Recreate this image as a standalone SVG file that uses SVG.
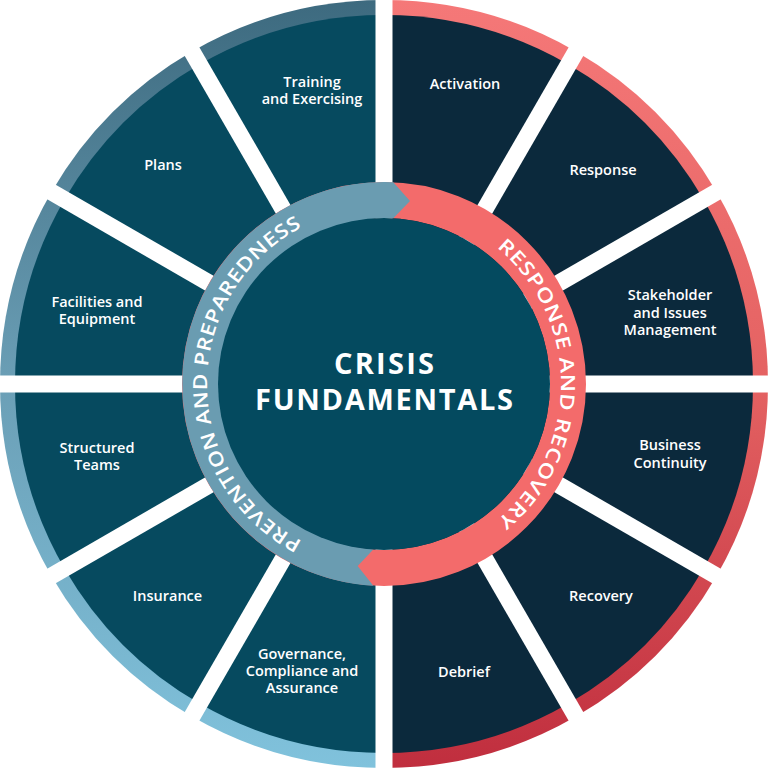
<svg xmlns="http://www.w3.org/2000/svg" width="768" height="768" viewBox="0 0 768 768">
<style>
.segL{fill:#064a5f}
.segR{fill:#0b293c}
.rimL{fill:url(#gradL)}
.rimR{fill:url(#gradR)}
.lbl{font-family:"Open Sans","Liberation Sans",sans-serif;font-weight:600;font-size:14.5px;fill:#ffffff;text-anchor:middle}
.ring{font-family:"Open Sans","Liberation Sans",sans-serif;font-weight:600;font-size:19.5px;fill:#ffffff;letter-spacing:0.5px}
.title{font-family:"Open Sans","Liberation Sans",sans-serif;font-weight:700;font-size:29px;fill:#ffffff;text-anchor:middle}
.gap{fill:#ffffff}
</style>
<defs>
<linearGradient id="gradL" gradientUnits="userSpaceOnUse" x1="0" y1="0" x2="0" y2="768">
<stop offset="0" stop-color="#3d6a7f"/>
<stop offset="0.5" stop-color="#6b9fb6"/>
<stop offset="1" stop-color="#80c2dc"/>
</linearGradient>
<linearGradient id="gradR" gradientUnits="userSpaceOnUse" x1="0" y1="0" x2="0" y2="768">
<stop offset="0" stop-color="#f57878"/>
<stop offset="0.5" stop-color="#e46262"/>
<stop offset="1" stop-color="#c02e3e"/>
</linearGradient>
<path id="arcL" d="M384 561 A177 177 0 0 1 384 207"/>
<path id="arcR" d="M384 207 A177 177 0 0 1 384 561"/>
</defs>
<rect width="768" height="768" fill="#ffffff"/>

<g id="activation">
<path class="rimR" d="M384 384 L384 0 A384 384 0 0 1 576 51.45 Z"/>
<path class="segR" d="M384 384 L384 15 A369 369 0 0 1 568.5 64.44 Z"/>
<text class="lbl" x="465" y="89">Activation</text>
</g>
<g id="response">
<path class="rimR" d="M384 384 L576 51.45 A384 384 0 0 1 716.55 192 Z"/>
<path class="segR" d="M384 384 L568.5 64.44 A369 369 0 0 1 703.56 199.5 Z"/>
<text class="lbl" x="603" y="175">Response</text>
</g>
<g id="stakeholder">
<path class="rimR" d="M384 384 L716.55 192 A384 384 0 0 1 768 384 Z"/>
<path class="segR" d="M384 384 L703.56 199.5 A369 369 0 0 1 753 384 Z"/>
<text class="lbl" x="670" y="300">Stakeholder</text>
<text class="lbl" x="670" y="317.5">and Issues</text>
<text class="lbl" x="670" y="335">Management</text>
</g>
<g id="business-continuity">
<path class="rimR" d="M384 384 L768 384 A384 384 0 0 1 716.55 576 Z"/>
<path class="segR" d="M384 384 L753 384 A369 369 0 0 1 703.56 568.5 Z"/>
<text class="lbl" x="670" y="450">Business</text>
<text class="lbl" x="670" y="467.5">Continuity</text>
</g>
<g id="recovery">
<path class="rimR" d="M384 384 L716.55 576 A384 384 0 0 1 576 716.55 Z"/>
<path class="segR" d="M384 384 L703.56 568.5 A369 369 0 0 1 568.5 703.56 Z"/>
<text class="lbl" x="601" y="601">Recovery</text>
</g>
<g id="debrief">
<path class="rimR" d="M384 384 L576 716.55 A384 384 0 0 1 384 768 Z"/>
<path class="segR" d="M384 384 L568.5 703.56 A369 369 0 0 1 384 753 Z"/>
<text class="lbl" x="464" y="677">Debrief</text>
</g>
<g id="governance">
<path class="rimL" d="M384 384 L384 768 A384 384 0 0 1 192 716.55 Z"/>
<path class="segL" d="M384 384 L384 753 A369 369 0 0 1 199.5 703.56 Z"/>
<text class="lbl" x="302" y="659">Governance,</text>
<text class="lbl" x="302" y="676">Compliance and</text>
<text class="lbl" x="302" y="693">Assurance</text>
</g>
<g id="insurance">
<path class="rimL" d="M384 384 L192 716.55 A384 384 0 0 1 51.45 576 Z"/>
<path class="segL" d="M384 384 L199.5 703.56 A369 369 0 0 1 64.44 568.5 Z"/>
<text class="lbl" x="167.5" y="601">Insurance</text>
</g>
<g id="structured-teams">
<path class="rimL" d="M384 384 L51.45 576 A384 384 0 0 1 0 384 Z"/>
<path class="segL" d="M384 384 L64.44 568.5 A369 369 0 0 1 15 384 Z"/>
<text class="lbl" x="97" y="453">Structured</text>
<text class="lbl" x="97" y="470">Teams</text>
</g>
<g id="facilities">
<path class="rimL" d="M384 384 L0 384 A384 384 0 0 1 51.45 192 Z"/>
<path class="segL" d="M384 384 L15 384 A369 369 0 0 1 64.44 199.5 Z"/>
<text class="lbl" x="97" y="306.5">Facilities and</text>
<text class="lbl" x="97" y="324">Equipment</text>
</g>
<g id="plans">
<path class="rimL" d="M384 384 L51.45 192 A384 384 0 0 1 192 51.45 Z"/>
<path class="segL" d="M384 384 L64.44 199.5 A369 369 0 0 1 199.5 64.44 Z"/>
<text class="lbl" x="163" y="170">Plans</text>
</g>
<g id="training">
<path class="rimL" d="M384 384 L192 51.45 A384 384 0 0 1 384 0 Z"/>
<path class="segL" d="M384 384 L199.5 64.44 A369 369 0 0 1 384 15 Z"/>
<text class="lbl" x="312" y="87">Training</text>
<text class="lbl" x="312" y="104">and Exercising</text>
</g>

<g id="connectors">
<g class="gap">
<rect x="375.5" y="-20" width="17" height="808" transform="rotate(0 384 384)"/>
<rect x="375.5" y="-20" width="17" height="808" transform="rotate(30 384 384)"/>
<rect x="375.5" y="-20" width="17" height="808" transform="rotate(60 384 384)"/>
<rect x="375.5" y="-20" width="17" height="808" transform="rotate(90 384 384)"/>
<rect x="375.5" y="-20" width="17" height="808" transform="rotate(120 384 384)"/>
<rect x="375.5" y="-20" width="17" height="808" transform="rotate(150 384 384)"/>
</g>
</g>

<g id="cycle-ring">
<circle cx="384" cy="384" r="184" fill="none" stroke="#f36b6b" stroke-width="36"/>
<path fill="#6a9cb1" d="M393.3 182.2 A202 202 0 0 0 373.3 585.7 L357.7 566 L373.3 549.6 A166 166 0 0 1 393.3 218.3 L410 201 Z"/>
<text class="ring"><textPath href="#arcL" startOffset="50%" text-anchor="middle" textLength="386" lengthAdjust="spacingAndGlyphs">PREVENTION AND PREPAREDNESS</textPath></text>
<text class="ring"><textPath href="#arcR" startOffset="50%" text-anchor="middle" textLength="312" lengthAdjust="spacingAndGlyphs">RESPONSE AND RECOVERY</textPath></text>
</g>

<g id="center">
<circle cx="384" cy="384" r="166" fill="#044a5f"/>
<text class="title" x="384" y="373.5" textLength="100" lengthAdjust="spacing">CRISIS</text>
<text class="title" x="384" y="410" textLength="258" lengthAdjust="spacing">FUNDAMENTALS</text>
</g>
</svg>
